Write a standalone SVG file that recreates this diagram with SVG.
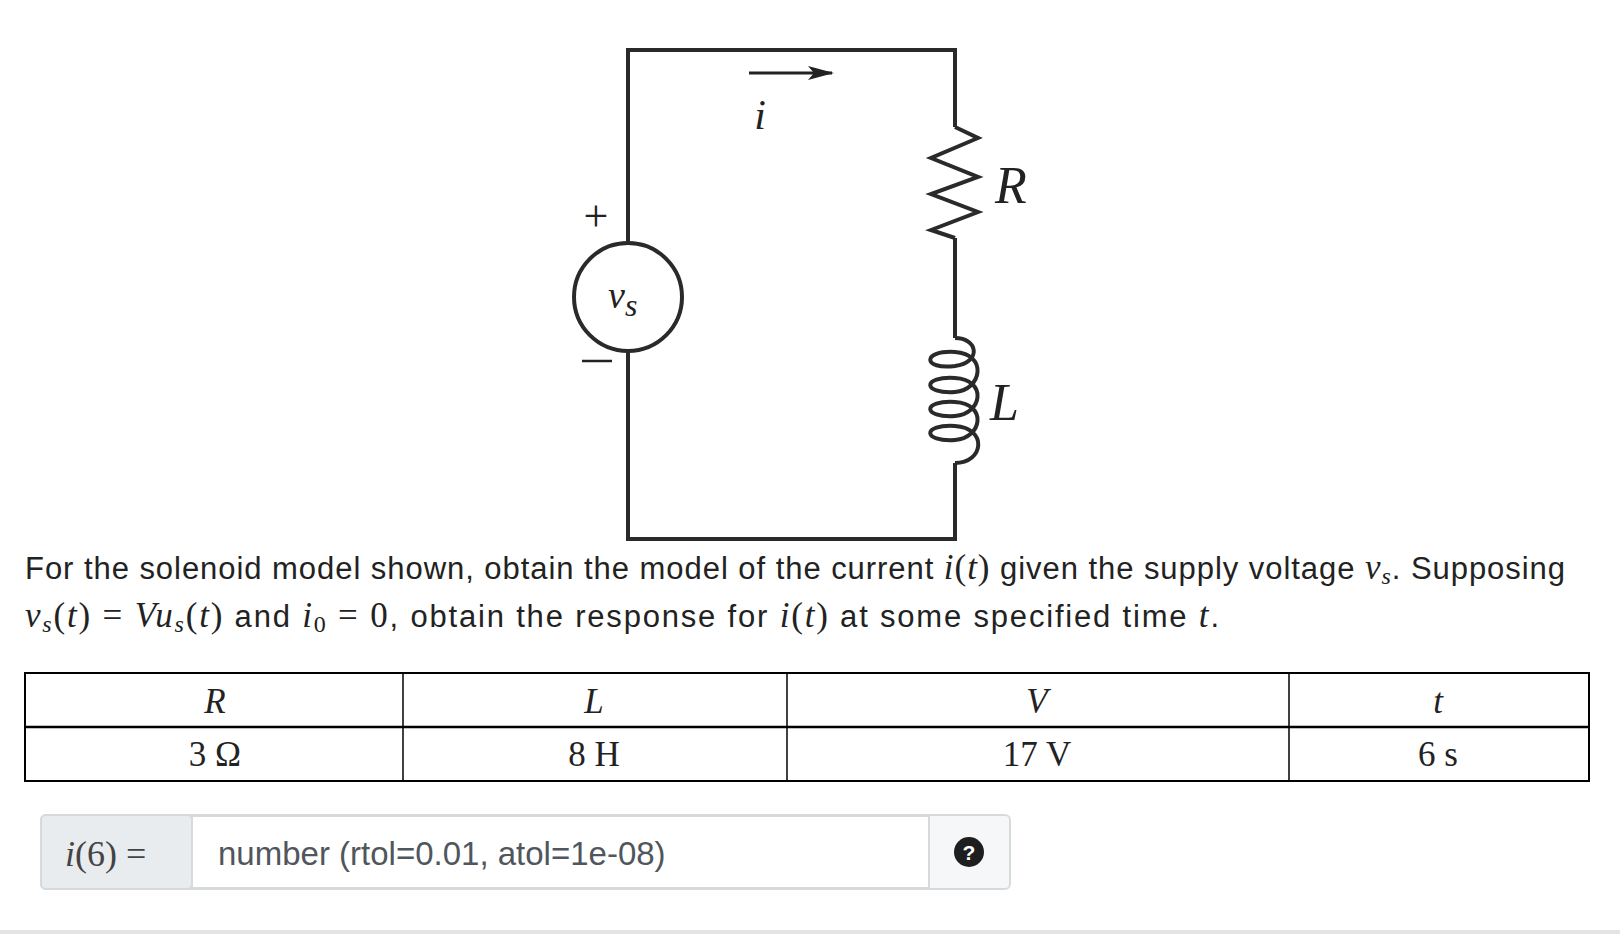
<svg xmlns="http://www.w3.org/2000/svg" width="1620" height="936" viewBox="0 0 1620 936">
<style>
.w{fill:none;stroke:#2a2a2a;stroke-width:4;stroke-linejoin:miter}
.m{font-family:"Liberation Serif",serif;font-style:italic}
.r{font-family:"Liberation Serif",serif;font-style:normal}
.s{font-family:"Liberation Sans",Arial,sans-serif}
.tb{stroke:#000;stroke-width:2;fill:none}
</style>
<defs><marker id="ah" markerWidth="26" markerHeight="14" refX="24" refY="7" orient="auto" markerUnits="userSpaceOnUse"><path d="M0,0 L26,7 L0,14 L6,7 Z" fill="#222"/></marker></defs>
<rect width="1620" height="936" fill="#fff"/>
<g id="connectors">
<path class="w" d="M628,243 V50 H955 V127"/>
<path class="w" d="M955,238 V338"/>
<path class="w" d="M955,463 V539 H628 V351"/>
<line x1="749" y1="73" x2="832" y2="73" stroke="#222" stroke-width="3" marker-end="url(#ah)"/>
</g>
<g id="source" fill="#222"><circle cx="628" cy="297" r="54" class="w"/>
<text x="608" y="308" class="m" font-size="38">v<tspan font-size="32" dy="8">s</tspan></text>
<text x="596" y="231" class="r" font-size="44" text-anchor="middle">+</text>
<line x1="582" y1="361" x2="612" y2="361" stroke="#222" stroke-width="2.5"/></g>
<g id="resistor" fill="#222"><path class="w" d="M955,127 L978,138 L931,158 L978,177 L931,194 L978,212 L931,230 L955,238"/>
<text x="995" y="203" class="m" font-size="52">R</text></g>
<g id="inductor" fill="#222"><path class="w" d="M955,338 C978,338 982,362 955,366 C922,370 922,350 955,352 C988,354 982,390 955,392 C922,394 922,376 955,378 C988,380 982,414 955,416 C922,418 922,400 955,402 C988,404 982,438 955,440 C922,442 922,424 955,426 C988,428 984,463 955,463"/>
<text x="990" y="420" class="m" font-size="52">L</text></g>
<text x="760" y="129" class="m" font-size="42" text-anchor="middle" fill="#222">i</text>
<g id="text" fill="#222">
<text x="25" y="579" class="s" font-size="31" textLength="1540" lengthAdjust="spacing">For the solenoid model shown, obtain the model of the current <tspan class="m" font-size="35">i</tspan><tspan class="r" font-size="35">(</tspan><tspan class="m" font-size="35">t</tspan><tspan class="r" font-size="35">)</tspan> given the supply voltage <tspan class="m" font-size="35">v<tspan font-size="24" dy="5">s</tspan></tspan><tspan dy="-5">. Supposing</tspan></text>
<text x="25" y="627" class="s" font-size="31" textLength="1194" lengthAdjust="spacing"><tspan class="m" font-size="35">v<tspan font-size="24" dy="5">s</tspan></tspan><tspan class="r" font-size="35" dy="-5">(</tspan><tspan class="m" font-size="35">t</tspan><tspan class="r" font-size="35">) = </tspan><tspan class="m" font-size="35">Vu<tspan font-size="24" dy="5">s</tspan></tspan><tspan class="r" font-size="35" dy="-5">(</tspan><tspan class="m" font-size="35">t</tspan><tspan class="r" font-size="35">)</tspan> and <tspan class="m" font-size="35">i</tspan><tspan class="r" font-size="24" dy="5">0</tspan><tspan class="r" font-size="35" dy="-5"> = 0</tspan>, obtain the response for <tspan class="m" font-size="35">i</tspan><tspan class="r" font-size="35">(</tspan><tspan class="m" font-size="35">t</tspan><tspan class="r" font-size="35">)</tspan> at some specified time <tspan class="m" font-size="35">t</tspan>.</text>
</g>
<g id="table">
<rect x="25" y="673" width="1564" height="108" class="tb"/>
<line x1="25" y1="727" x2="1589" y2="727" stroke="#000" stroke-width="2.5"/>
<line x1="403" y1="673" x2="403" y2="781" stroke="#000" stroke-width="1.5"/>
<line x1="787" y1="673" x2="787" y2="781" stroke="#000" stroke-width="1.5"/>
<line x1="1289" y1="673" x2="1289" y2="781" stroke="#000" stroke-width="1.5"/>
<g font-size="35" text-anchor="middle" fill="#222">
<text x="215" y="713" class="m">R</text><text x="594" y="713" class="m">L</text><text x="1037" y="713" class="m">V</text><text x="1438" y="713" class="m">t</text>
<text x="215" y="766" class="r">3 Ω</text><text x="594" y="766" class="r">8 H</text><text x="1037" y="766" class="r">17 V</text><text x="1438" y="766" class="r">6 s</text>
</g></g>
<g id="input">
<rect x="41" y="815" width="969" height="74" rx="5" fill="#f6f7f9" stroke="#d7dadd" stroke-width="2"/>
<rect x="41" y="815" width="151" height="74" rx="5" fill="#e9ecef" stroke="#d7dadd" stroke-width="2"/>
<rect x="192" y="816" width="737" height="72" fill="#fff" stroke="#d7dadd" stroke-width="2"/>
<text x="65" y="866" class="m" font-size="36" fill="#444">i<tspan class="r">(6) =</tspan></text>
<text x="218" y="865" class="s" font-size="33" fill="#50565c">number (rtol=0.01, atol=1e-08)</text>
<circle cx="969" cy="852" r="15" fill="#1e1e1e"/>
<text x="969" y="860" class="s" font-size="21" font-weight="bold" fill="#fff" text-anchor="middle">?</text>
</g>
<rect x="0" y="930" width="1620" height="4" fill="#e4e4e4"/>
</svg>
